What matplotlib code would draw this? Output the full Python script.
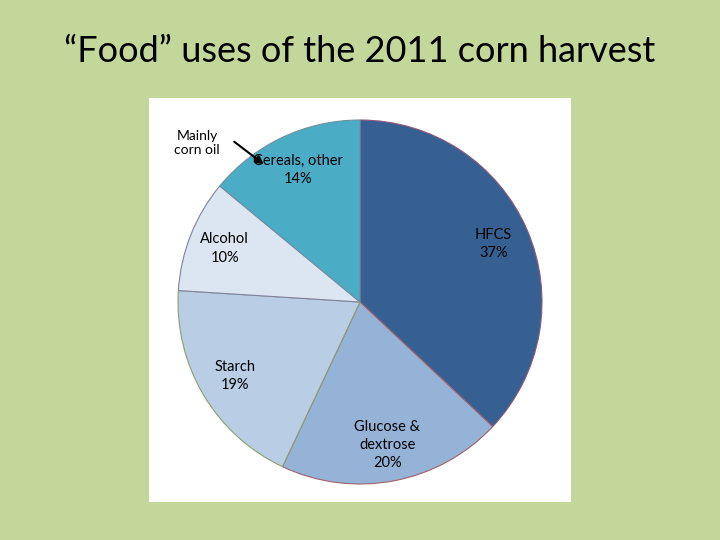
import matplotlib
matplotlib.use("Agg")
import matplotlib.pyplot as plt
from matplotlib.patches import Rectangle

categories = ["HFCS", "Glucose &\ndextrose", "Starch", "Alcohol", "Cereals, other"]
values = [37, 20, 19, 10, 14]
colors = ["#376092", "#95B3D7", "#B9CDE5", "#DCE6F2", "#4BACC6"]
edges = ["#8B5A7A", "#A0606A", "#8AA070", "#8080A0", "#7090A0"]

plt.rcParams['font.family'] = ['Lato', 'DejaVu Sans']
fig = plt.figure(figsize=(7.2, 5.4), dpi=100)
fig.patch.set_facecolor("#C4D79B")
fig.patches.append(Rectangle((149/720, (540-502)/540), (571-149)/720, (502-98)/540,
                             transform=fig.transFigure, facecolor="white", edgecolor="none", zorder=-5))
fig.text(0.5, 1-52/540, "\u201cFood\u201d uses of the 2011 corn harvest", ha="center", va="center", fontsize=26)

ax = fig.add_axes([178/720, 56/540, 364/720, 364/540])
ax.set_zorder(2)
ax.patch.set_alpha(0)
labels = [f"{c}\n{v}%" for c, v in zip(categories, values)]
wedges, texts = ax.pie(values, colors=colors, startangle=90, counterclock=False,
                       labels=labels, labeldistance=0.8,
                       textprops=dict(ha="center", va="center", fontsize=10.5, linespacing=1.4),
                       wedgeprops=dict(linewidth=0.8))
for w, e in zip(wedges, edges):
    w.set_edgecolor(e)
ax.set_xlim(-1, 1); ax.set_ylim(-1, 1)
ax.set_aspect("equal"); ax.axis("off")

fig.text(197/720, 1-143/540, "Mainly\ncorn oil", ha="center", va="center", fontsize=10, linespacing=1.3, zorder=3)
fig.add_artist(matplotlib.patches.FancyArrowPatch((232/720, 1-140/540), (266/720, 1-166/540),
               transform=fig.transFigure, arrowstyle="-|>", mutation_scale=12,
               color="black", lw=1.5, zorder=3))
fig.savefig("out.png", dpi=100, facecolor=fig.get_facecolor())
